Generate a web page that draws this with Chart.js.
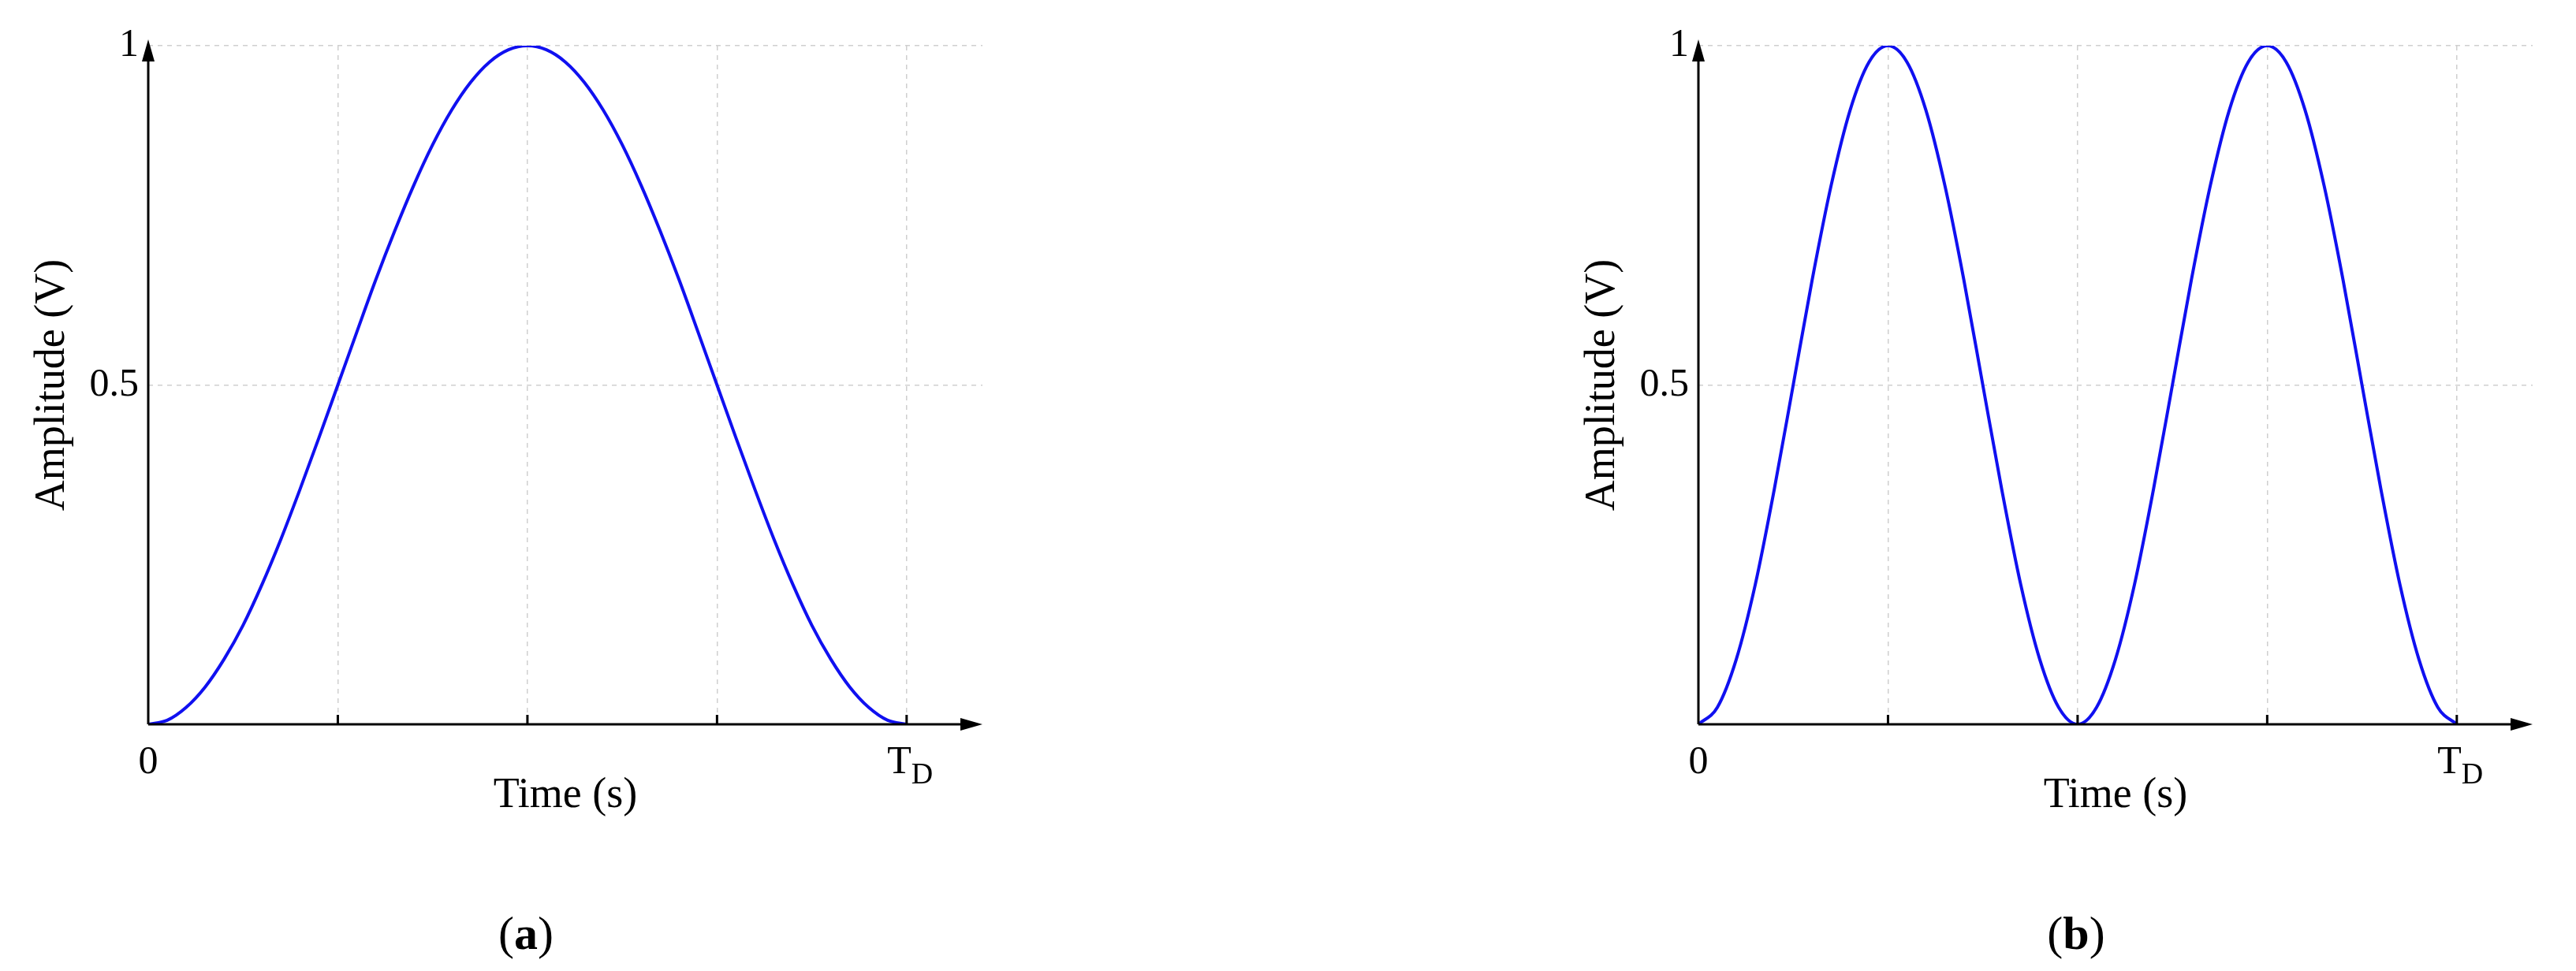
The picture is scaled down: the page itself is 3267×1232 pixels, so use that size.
<!DOCTYPE html>
<html>
<head>
<meta charset="UTF-8">
<script src="https://cdn.jsdelivr.net/npm/chart.js"></script>
<style>
  body { margin: 0; width: 3267px; height: 1232px; background: #fff; position: relative; overflow: hidden; }
  .panel { position: absolute; top: 0; width: 1300px; height: 1100px; }
  .cap { position: absolute; top: 1150px; width: 200px; text-align: center; font: 60px "Liberation Serif", serif; }
</style>
</head>
<body>
<div class="panel" style="left:0"><canvas id="chartA"></canvas></div>
<div class="panel" style="left:1966px"><canvas id="chartB"></canvas></div>
<div class="cap" style="left:567px">(<b>a</b>)</div>
<div class="cap" style="left:2533px">(<b>b</b>)</div>
<script>
// Valores (tiempo normalizado a T_D)
const timeA = [0,0.025,0.05,0.075,0.1,0.125,0.15,0.175,0.2,0.225,0.25,0.275,0.3,0.325,0.35,0.375,0.4,0.425,0.45,0.475,0.5,
  0.525,0.55,0.575,0.6,0.625,0.65,0.675,0.7,0.725,0.75,0.775,0.8,0.825,0.85,0.875,0.9,0.925,0.95,0.975,1];
const ampA = [0,0.006,0.025,0.055,0.096,0.146,0.206,0.273,0.346,0.422,0.5,0.578,0.655,0.727,0.794,0.854,0.905,0.946,0.976,0.994,1,
  0.994,0.976,0.946,0.905,0.854,0.794,0.727,0.655,0.578,0.5,0.422,0.346,0.273,0.206,0.146,0.096,0.055,0.025,0.006,0];
const timeB = timeA;
const ampB = [0,0.025,0.096,0.206,0.346,0.5,0.655,0.794,0.905,0.976,1,0.976,0.905,0.794,0.655,0.5,0.346,0.206,0.096,0.025,0,
  0.025,0.096,0.206,0.346,0.5,0.655,0.794,0.905,0.976,1,0.976,0.905,0.794,0.655,0.5,0.346,0.206,0.096,0.025,0];
const xTicks = [0, 0.25, 0.5, 0.75, 1];
const yTicks = [0.5, 1];
const yLabels = ['0.5', '1'];

const serif = '"Liberation Serif", serif';

// ejes con flecha, marcas, T_D y titulos
const decor = {
  id: 'decor',
  afterDraw(chart) {
    const { ctx, chartArea: a, scales: { x, y } } = chart;
    ctx.save();
    ctx.strokeStyle = '#000'; ctx.fillStyle = '#000'; ctx.lineWidth = 3;
    const x0 = x.getPixelForValue(0), y0 = y.getPixelForValue(0);
    ctx.beginPath();
    ctx.moveTo(x0, y0); ctx.lineTo(a.right - 20, y0);
    ctx.moveTo(x0, y0); ctx.lineTo(x0, a.top + 20);
    xTicks.slice(1).forEach(v => { const p = x.getPixelForValue(v); ctx.moveTo(p, y0); ctx.lineTo(p, y0 - 12); });
    ctx.stroke();
    ctx.beginPath();
    ctx.moveTo(a.right, y0); ctx.lineTo(a.right - 28, y0 - 8); ctx.lineTo(a.right - 28, y0 + 8); ctx.closePath();
    ctx.moveTo(x0, a.top - 8); ctx.lineTo(x0 - 8, a.top + 20); ctx.lineTo(x0 + 8, a.top + 20); ctx.closePath();
    ctx.fill();
    ctx.font = '50px ' + serif;
    ctx.textBaseline = 'top'; ctx.textAlign = 'center';
    ctx.fillText('0', x0, y0 + 24);
    const xd = x.getPixelForValue(1);
    ctx.textAlign = 'right';
    ctx.fillText('T', xd + 6, y0 + 24);
    ctx.font = '38px ' + serif; ctx.textAlign = 'left';
    ctx.fillText('D', xd + 6, y0 + 46);
    ctx.font = '54px ' + serif; ctx.textAlign = 'center'; ctx.textBaseline = 'middle';
    ctx.fillText('Time (s)', (a.left + a.right) / 2, 1010);
    ctx.translate(67, (a.top + a.bottom) / 2);
    ctx.rotate(-Math.PI / 2);
    ctx.fillText('Amplitude (V)', 0, 0);
    ctx.restore();
  }
};

function makeChart(id, times, amps) {
  return new Chart(document.getElementById(id), {
    type: 'line',
    data: { datasets: [{ data: times.map((t, i) => ({ x: t, y: amps[i] })), borderColor: '#1010f0', borderWidth: 4, pointRadius: 0, cubicInterpolationMode: 'monotone' }] },
    options: {
      responsive: false, animation: false,
      layout: { padding: { top: 58, right: 54, left: 0, bottom: 0 } },
      plugins: { legend: { display: false }, tooltip: { enabled: false } },
      scales: {
        x: {
          type: 'linear', min: 0, max: 1.1,
          afterBuildTicks: s => { s.ticks = xTicks.map(v => ({ value: v })); },
          afterFit: s => { s.height = 181; },
          ticks: { display: false },
          border: { display: false, dash: [6, 6] },
          grid: { color: '#cfcfcf', lineWidth: 1.5, drawTicks: false }
        },
        y: {
          min: 0, max: 1,
          afterBuildTicks: s => { s.ticks = yTicks.map(v => ({ value: v })); },
          afterFit: s => { s.width = 188; },
          ticks: { color: '#000', font: { family: serif, size: 50 }, padding: 12,
            callback: (v, i) => yLabels[i] },
          border: { display: false, dash: [6, 6] },
          grid: { color: '#cfcfcf', lineWidth: 1.5, drawTicks: false }
        }
      }
    },
    plugins: [decor]
  });
}

document.querySelectorAll('canvas').forEach(c => { c.width = 1300; c.height = 1100; });
makeChart('chartA', timeA, ampA);
makeChart('chartB', timeB, ampB);
</script>
</body>
</html>
